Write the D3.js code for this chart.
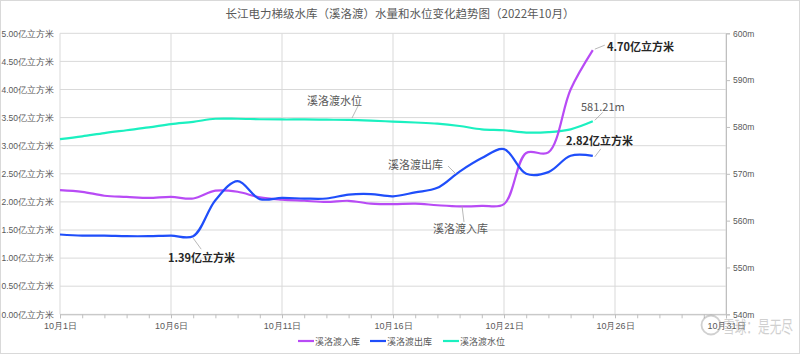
<!DOCTYPE html>
<html><head><meta charset="utf-8">
<script src="https://cdn.jsdelivr.net/npm/d3@7"></script>
<style>body{margin:0;background:#fff}svg{display:block;font-family:"Noto Sans CJK SC","Noto Sans",sans-serif}</style>
</head><body><svg id="c" width="800" height="355"></svg>
<script>
const title = "长江电力梯级水库（溪洛渡）水量和水位变化趋势图（2022年10月）";
const days = d3.range(1, 26);
const inflow = [2.21,2.18,2.11,2.09,2.07,2.09,2.06,2.20,2.18,2.08,2.04,2.02,2.00,2.02,1.97,1.96,1.97,1.94,1.92,1.93,1.96,2.87,2.88,4.00,4.70];
const outflow = [1.42,1.40,1.40,1.39,1.39,1.40,1.39,2.03,2.37,2.05,2.07,2.06,2.06,2.13,2.14,2.10,2.17,2.25,2.54,2.78,2.94,2.50,2.53,2.82,2.82];
const level = [577.4,578.0,578.7,579.3,579.9,580.6,581.1,581.75,581.75,581.65,581.6,581.6,581.55,581.5,581.35,581.15,580.95,580.7,580.2,579.5,579.3,578.8,578.9,579.5,581.21];
const leftTicks = [0,0.5,1,1.5,2,2.5,3,3.5,4,4.5,5];
const rightTicks = [540,550,560,570,580,590,600];
const xTickDays = [1,6,11,16,21,26,31];
const names = ["溪洛渡入库","溪洛渡出库","溪洛渡水位"];
const colors = ["#B84BF5","#1F4EFA","#1BF0C0"];

const svg = d3.select("#c");
const L=60, R=726, T=33.3, B=314.3;
const x = d3.scaleLinear().domain([1,31]).range([L,R]);
const yL = d3.scaleLinear().domain([0,5]).range([B,T]);
const yR = d3.scaleLinear().domain([540,600]).range([B,T]);
const grid = "#D9D9D9", txt = "#595959";

svg.append("rect").attr("x",0.5).attr("y",0.5).attr("width",799).attr("height",353).attr("fill","#fff").attr("stroke","#D9D9D9");

svg.append("text").attr("x",400).attr("y",18).attr("text-anchor","middle").attr("font-size",11.5).attr("fill",txt).text(title);

// horizontal grid
svg.append("g").selectAll("line").data(leftTicks).join("line")
  .attr("x1",L).attr("x2",R).attr("y1",d=>yL(d)).attr("y2",d=>yL(d)).attr("stroke",grid);
// vertical grid
svg.append("g").selectAll("line").data(xTickDays).join("line")
  .attr("x1",d=>x(d)).attr("x2",d=>x(d)).attr("y1",T).attr("y2",B).attr("stroke",grid);

// x axis
const xa = svg.append("g").attr("transform",`translate(0,${B})`)
  .call(d3.axisBottom(x).tickValues(d3.range(1,32)).tickSize(4).tickFormat(d=>xTickDays.includes(d)?`10月${d}日`:""));
xa.select(".domain").attr("stroke","#BFBFBF");
xa.selectAll(".tick line").attr("stroke","#BFBFBF");
xa.selectAll("text").attr("fill",txt).attr("font-size",9).attr("dy","0.9em");

// left axis
const ya = svg.append("g").attr("transform",`translate(${L-6},0)`)
  .call(d3.axisLeft(yL).tickValues(leftTicks).tickSize(0).tickFormat(d=>d3.format(".2f")(d)+"亿立方米"));
ya.select(".domain").remove();
ya.selectAll("text").attr("fill",txt).attr("font-size",8.5).attr("x",0);

// right axis
const ra = svg.append("g").attr("transform",`translate(${R},0)`)
  .call(d3.axisRight(yR).tickValues(rightTicks).tickSize(4).tickFormat(d=>d+"m"));
ra.select(".domain").attr("stroke","#BFBFBF");
ra.selectAll(".tick line").attr("stroke","#BFBFBF");
ra.selectAll("text").attr("fill",txt).attr("font-size",8.5).attr("x",7);

// lines
const curve = d3.curveCatmullRom.alpha(0.5);
const mk = (vals, ys) => d3.line().x((d,i)=>x(days[i])).y(d=>ys(d)).curve(curve)(vals);
svg.append("path").attr("d",mk(level,yR)).attr("fill","none").attr("stroke",colors[2]).attr("stroke-width",2.2);
svg.append("path").attr("d",mk(inflow,yL)).attr("fill","none").attr("stroke",colors[0]).attr("stroke-width",2.2);
svg.append("path").attr("d",mk(outflow,yL)).attr("fill","none").attr("stroke",colors[1]).attr("stroke-width",2.2);

// annotations
const lead = "#A6A6A6";
function ann(px,py,qx,qy,tx,ty,t,bold,anchor){
  svg.append("path").attr("d",`M${px},${py}L${qx},${qy}`).attr("stroke",lead).attr("fill","none").attr("stroke-width",0.8);
  svg.append("text").attr("x",tx).attr("y",ty).attr("font-size",11).attr("font-weight",bold?"bold":"normal")
    .attr("fill",bold?"#262626":txt).attr("text-anchor",anchor||"start").text(t);
}
const lastI = days.length-1;
ann(x(25)+2,yL(inflow[lastI])-1,x(25)+12,yL(inflow[lastI])-5,607,51,"4.70亿立方米",true);
ann(x(25)+2,yR(level[lastI])-1,x(25)+10,yR(level[lastI])-9,581,111,"581.21m",false);
ann(x(25)+2,yL(outflow[lastI])+1,x(25)+8,yL(outflow[lastI])-7,566,145,"2.82亿立方米",true);
ann(x(7),yL(outflow[6])+2,x(7)+8,yL(outflow[6])+13,168,262,"1.39亿立方米",true);
ann(352,118,358,106,307,105,"溪洛渡水位",false);
ann(448,166,456,174,388,169,"溪洛渡出库",false);
ann(462,206,464,222,433,233,"溪洛渡入库",false);

// legend
const lg = svg.append("g");
const lx = [298,370,443];
names.forEach((n,i)=>{
  lg.append("line").attr("x1",lx[i]).attr("x2",lx[i]+16).attr("y1",341).attr("y2",341).attr("stroke",colors[i]).attr("stroke-width",2.2);
  lg.append("text").attr("x",lx[i]+17).attr("y",345).attr("font-size",9).attr("fill",txt).text(n);
});

// watermark
const wm = svg.append("g").attr("opacity",0.45);
wm.append("circle").attr("cx",711).attr("cy",325).attr("r",9.5).attr("fill","none").attr("stroke","#999").attr("stroke-width",1.8);
wm.append("text").attr("x",723).attr("y",333).attr("font-size",17).attr("textLength",70).attr("lengthAdjust","spacingAndGlyphs").attr("fill","#999").text("雪球：是无尽");
</script></body></html>
